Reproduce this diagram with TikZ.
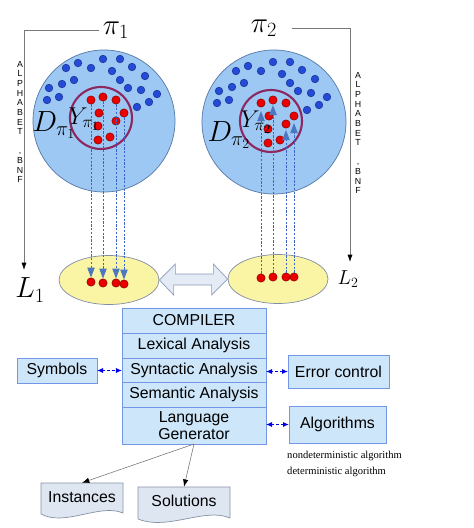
\documentclass[tikz,border=0pt]{standalone}
\usepackage{fontspec}
\setmainfont{Liberation Serif}
\setsansfont{Liberation Sans}
\usetikzlibrary{positioning,shapes.geometric,arrows.meta}
\definecolor{diskfill}{RGB}{157,200,244}
\definecolor{diskline}{RGB}{85,120,165}
\definecolor{bluedotfill}{RGB}{35,75,215}
\definecolor{bluedotline}{RGB}{25,45,140}
\definecolor{reddotfill}{RGB}{235,0,0}
\definecolor{reddotline}{RGB}{130,0,0}
\definecolor{ring}{RGB}{140,40,95}
\definecolor{dashblue}{RGB}{60,100,200}
\definecolor{tipblue}{RGB}{75,120,190}
\definecolor{poolfill}{RGB}{250,245,165}
\definecolor{poolline}{RGB}{130,140,165}
\definecolor{bridgefill}{RGB}{228,235,245}
\definecolor{bridgeline}{RGB}{140,155,185}
\definecolor{boxfill}{RGB}{205,230,250}
\definecolor{boxline}{RGB}{115,150,230}
\definecolor{paperfill}{RGB}{222,230,242}
\definecolor{paperline}{RGB}{135,145,165}
\definecolor{bracketgray}{RGB}{120,120,120}
\begin{document}
\begin{tikzpicture}[x=0.03cm,y=-0.03cm,
		bigdisk/.style={draw=diskline,fill=diskfill,line width=0.6pt},
		bluedot/.style={circle,draw=bluedotline,fill=bluedotfill,line width=0.4pt,inner sep=0pt,minimum size=2.3mm},
		reddot/.style={circle,draw=reddotline,fill=reddotfill,line width=0.4pt,inner sep=0pt,minimum size=2.5mm},
		flow/.style={draw=dashblue,line width=0.8pt,dash pattern=on 2pt off 1.2pt,-{Triangle[length=3mm,width=2.2mm,color=tipblue]}},
		pool/.style={ellipse,draw=poolline,fill=poolfill,line width=0.6pt,minimum width=3cm,minimum height=1.47cm,inner sep=0pt},
		bridge/.style={draw=bridgeline,fill=bridgefill,line width=0.6pt},
		bracket/.style={draw=bracketgray,line width=0.6pt,-{Latex[length=2.2mm,width=1.5mm,color=black]}},
		alphabet/.style={font=\sffamily\fontsize{7.5}{8.2}\selectfont,align=center,inner sep=0pt},
		maths/.style={inner sep=0pt},
		phase/.style={draw=boxline,fill=boxfill,line width=0.7pt,minimum width=4.32cm,minimum height=0.75cm,inner sep=0pt,outer sep=0pt,align=center,font=\sffamily\fontsize{13.5}{15}\selectfont},
		link/.style={draw=blue!90!black,line width=0.8pt,dash pattern=on 2.5pt off 1.5pt,{Latex[length=1.8mm,width=1.5mm]}-{Latex[length=1.8mm,width=1.5mm]}},
		note/.style={font=\fontsize{9}{10}\selectfont,anchor=west,inner sep=0pt},
		paper/.style={draw=paperline,fill=paperfill,line width=0.6pt},
		papertext/.style={minimum width=2.46cm,minimum height=0.84cm,inner sep=0pt,font=\sffamily\fontsize{13.5}{15}\selectfont},
		gen/.style={draw=bracketgray,line width=0.5pt,-{Latex[length=2.2mm,width=1.6mm,color=black]}}]
	\useasboundingbox (0,0) rectangle (474,528);

	% the two problem domains
	\draw[bigdisk] (104,121) circle [radius=71];
	\draw[bigdisk] (274,122) circle [radius=72];
	\foreach \dx/\dy [count=\k] in {0/0,170/3} {
		\begin{scope}[shift={(\dx,\dy)}]
			\foreach \x/\y in {66/68,78/63,91/68,103/59,120/59,132/67,145/76,112/71,120/80,128/88,141/90,157/94,149/102,137/107,49/88,62/84,74/80,47/100,59/97}
				\node[bluedot] at (\x,\y) {};
			\draw[ring,line width=1.8pt] (101,118) circle [radius=31];
			\foreach \x/\y [count=\i] in {91/100,103/97,116/100,99/113,124/113,98/126,116/121,98/140,110/137}
				\node[reddot] (r\k-\i) at (\x,\y) {};
		\end{scope}
	}
	\node[maths,font=\fontsize{25}{25}\selectfont] (D1) at (54,125) {$D_{\pi_1}$};
	\node[maths,font=\fontsize{21}{21}\selectfont] (Y1) at (84,119) {$Y_{\pi_1}$};
	\node[maths,font=\fontsize{25}{25}\selectfont] (D2) at (229,135) {$D_{\pi_2}$};
	\node[maths,font=\fontsize{21}{21}\selectfont] (Y2) at (256,122) {$Y_{\pi_2}$};

	% languages
	\node[pool] (pool1) at (109,280) {};
	\node[pool] (pool2) at (278,279) {};
	\foreach \x/\y [count=\i] in {91/282,103/283,116/283,124/284}
		\node[reddot] (e1-\i) at (\x,\y) {};
	\foreach \x/\y [count=\i] in {261/278,273/277,286/277,294/277}
		\node[reddot] (e2-\i) at (\x,\y) {};
	\draw[flow] (r1-1) -- (e1-1);
	\draw[flow] (r1-2) -- (e1-2);
	\draw[flow] (r1-3) -- (e1-3);
	\draw[flow] (r1-5) -- (e1-4);
	\foreach \x/\y [count=\i] in {261/111,273/105,286/130,294/123}
		\coordinate (tip\i) at (\x,\y);
	\foreach \i in {1,...,4}
		\draw[flow] (e2-\i) -- (tip\i);
	\draw[bridge] (pool1.east) -- ++(16,-16) -- ++(0,10) -- ++(38,0) -- ++(0,-10) -- (pool2.west)
		-- ++(-16,16) -- ++(0,-10) -- ++(-38,0) -- ++(0,10) -- cycle;

	% problems and their languages
	\node[font=\fontsize{25}{25}\selectfont] (pi1) at (116,30) {$\pi_1$};
	\node[font=\fontsize{25}{25}\selectfont] (pi2) at (264,28) {$\pi_2$};
	\node[font=\fontsize{25}{25}\selectfont] (L1) at (30,290) {$L_1$};
	\node[font=\fontsize{18}{18}\selectfont] (L2) at (348,279) {$L_2$};
	\coordinate (end1) at (24,270);
	\coordinate (end2) at (350,262);
	\draw[bracket] (pi1.west) -| (end1);
	\draw[bracket] ([xshift=9pt]pi2.east) -| (end2);
	\node[alphabet] (abc1) at (20,122) {A\\L\\P\\H\\A\\B\\E\\T\\{}\\,\\B\\N\\F};
	\node[alphabet] (abc2) at (358,133) {A\\L\\P\\H\\A\\B\\E\\T\\{}\\,\\B\\N\\F};

	% compiler
	\node[phase] (comp) at (194,320.5) {COMPILER};
	\node[phase,below=0pt of comp] (lex) {Lexical Analysis};
	\node[phase,below=0pt of lex,minimum height=0.72cm] (syn) {Syntactic Analysis};
	\node[phase,below=0pt of syn] (sem) {Semantic Analysis};
	\node[phase,below=0pt of sem,minimum height=1.11cm] (langgen) {Language\\Generator};
	\node[phase,minimum width=2.4cm] (symb) at (57,370.5) {Symbols};
	\node[phase,minimum width=3.03cm,minimum height=0.99cm] (err) at (338.5,371.5) {Error control};
	\node[phase,minimum width=2.91cm,minimum height=1.11cm] (alg) at (337.5,424.5) {Algorithms};
	\draw[link] (symb) -- (symb -| syn.west);
	\draw[link] (err.west) -- (err.west -| syn.east);
	\draw[link] (alg.west) -- (alg.west -| langgen.east);
	\node[note] (nondet) at (287,456) {nondeterministic algorithm};
	\node[note] (det) at (287,472) {deterministic algorithm};

	% outputs
	\draw[paper] (41,483) -- (123,483) -- (123,513) .. controls (100,503) and (65,527) .. (41,514) -- cycle;
	\draw[paper] (138,487) -- (230,487) -- (230,518) .. controls (205,507) and (168,531) .. (138,519) -- cycle;
	\node[papertext] (inst) at (82,497) {Instances};
	\node[papertext] (sol) at (184,501) {Solutions};
	\draw[gen] (langgen.south) -- (inst.north);
	\draw[gen] (langgen.south) -- (sol.north);
\end{tikzpicture}
\end{document}
